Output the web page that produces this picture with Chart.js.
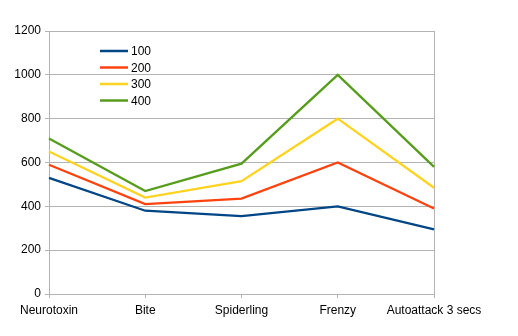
<!DOCTYPE html>
<html><head><meta charset="utf-8">
<script src="https://cdn.jsdelivr.net/npm/chart.js@4/dist/chart.umd.min.js"></script>
<style>html,body{margin:0;padding:0;background:#fff}#wrap{width:518px;height:336px}</style>
</head><body><div id="wrap"><canvas id="c" width="518" height="336"></canvas></div>
<script>
const categories = ["Neurotoxin", "Bite", "Spiderling", "Frenzy", "Autoattack 3 secs"];
const seriesNames = ["100", "200", "300", "400"];
const s100 = [530, 380, 355, 400, 295];
const s200 = [590, 410, 435, 600, 390];
const s300 = [650, 440, 515, 800, 485];
const s400 = [710, 470, 595, 1000, 580];
const yTicks = [0, 200, 400, 600, 800, 1000, 1200];
const colors = ["#004586", "#ff420e", "#ffd320", "#579d1c"];
const allSeries = [s100, s200, s300, s400];

const legendPlugin = {
  id: 'insideLegend',
  afterDraw(chart) {
    const ctx = chart.ctx;
    ctx.save();
    ctx.font = '12px "Liberation Sans", Arial, sans-serif';
    ctx.textBaseline = 'middle';
    ctx.fillStyle = '#000';
    chart.data.datasets.forEach((ds, i) => {
      const y = 51 + i * 16.5;
      ctx.strokeStyle = ds.borderColor;
      ctx.lineWidth = 2.5;
      ctx.beginPath(); ctx.moveTo(100, y); ctx.lineTo(128, y); ctx.stroke();
      ctx.fillText(ds.label, 131, y + 1);
    });
    ctx.restore();
  }
};

new Chart(document.getElementById('c'), {
  type: 'line',
  data: {
    labels: categories,
    datasets: allSeries.map((d, i) => ({
      label: seriesNames[i], data: d, borderColor: colors[i], backgroundColor: colors[i],
      borderWidth: 2.3, pointRadius: 0, tension: 0, fill: false
    }))
  },
  options: {
    responsive: false, animation: false,
    layout: { padding: { top: 31, right: 84, bottom: 0, left: 0 } },
    plugins: { legend: { display: false }, tooltip: { enabled: false } },
    scales: {
      x: {
        offset: false,
        grid: { color: c => c.index === 4 ? '#b3b3b3' : 'rgba(0,0,0,0)', tickColor: '#b3b3b3', tickLength: 4, lineWidth: 1 },
        border: { display: true, color: '#b3b3b3' },
        ticks: { color: '#000', font: { family: '"Liberation Sans", Arial, sans-serif', size: 12 }, maxRotation: 0, autoSkip: false, padding: 5 },
        afterFit: s => { s.height = 42; }
      },
      y: {
        min: 0, max: 1200,
        afterBuildTicks: s => { s.ticks = yTicks.map(v => ({ value: v })); },
        grid: { color: '#b3b3b3', tickColor: '#b3b3b3', tickLength: 4 },
        border: { display: true, color: '#b3b3b3' },
        ticks: { color: '#000', font: { family: '"Liberation Sans", Arial, sans-serif', size: 12 }, padding: 4, callback: v => String(v) },
        afterFit: s => { s.width = 49; }
      }
    }
  },
  plugins: [legendPlugin]
});
</script></body></html>
